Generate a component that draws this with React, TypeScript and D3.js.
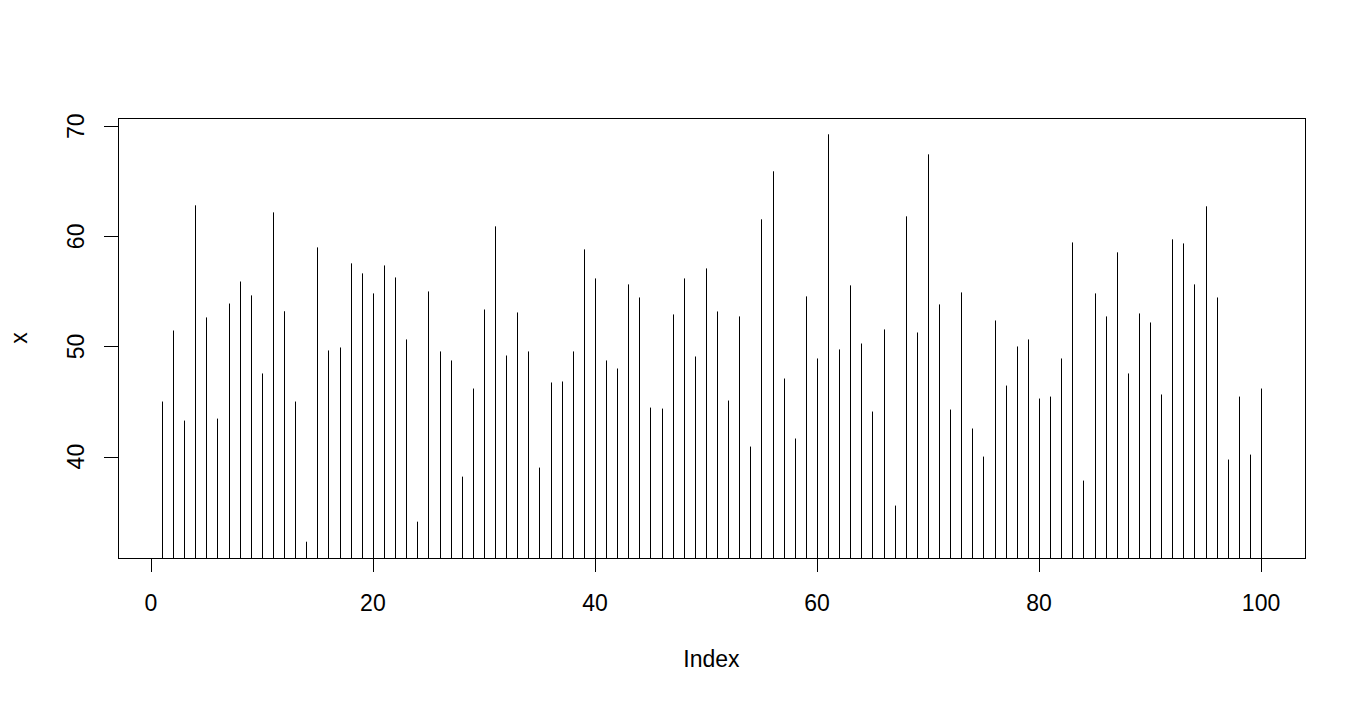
import React from "react";
import * as d3 from "d3";

const values: number[] = [
  45.0, 51.45, 43.27, 62.82, 52.64, 43.45, 53.9, 55.9, 54.64, 47.55,
  62.18, 53.2, 45.0, 32.27, 59.0, 49.64, 49.91, 57.55, 56.64, 54.82,
  57.36, 56.27, 50.64, 34.09, 55.0, 49.55, 48.73, 38.18, 46.18, 53.36,
  60.91, 49.18, 53.09, 49.55, 39.0, 46.73, 46.82, 49.55, 58.82, 56.18,
  48.73, 48.0, 55.64, 54.45, 44.45, 44.36, 52.91, 56.18, 49.09, 57.09,
  53.18, 45.09, 52.73, 40.91, 61.55, 65.91, 47.09, 41.64, 54.55, 48.91,
  69.27, 49.73, 55.55, 50.27, 44.09, 51.55, 35.55, 61.82, 51.27, 67.45,
  53.82, 44.27, 54.91, 42.55, 40.0, 52.36, 46.45, 50.0, 50.64, 45.27,
  45.45, 48.91, 59.45, 37.82, 54.82, 52.73, 58.55, 47.55, 53.0, 52.18,
  45.64, 59.73, 59.36, 55.64, 62.73, 54.45, 39.73, 45.45, 40.18, 46.18,
];
const indices: number[] = values.map((_, i) => i + 1);
const xTicks: number[] = [0, 20, 40, 60, 80, 100];
const yTicks: number[] = [40, 50, 60, 70];
const xLabel = "Index";
const yLabel = "x";

const W = 1366;
const H = 705;
const L = 118, R = 1305, T = 118, B = 558;
const FONT = "Arial, 'Liberation Sans', sans-serif";
const FS = 23;

function padded(lo: number, hi: number): [number, number] {
  const r = hi - lo;
  return [lo - 0.04 * r, hi + 0.04 * r];
}

export default function App() {
  const xDom = padded(d3.min(indices)!, d3.max(indices)!);
  const yDom = padded(d3.min(values)!, d3.max(values)!);
  const x = d3.scaleLinear().domain(xDom).range([L, R]);
  const y = d3.scaleLinear().domain(yDom).range([B, T]);

  return (
    <svg
      width={W}
      height={H}
      style={{ position: "absolute", left: 0, top: 0, background: "#fff" }}
    >
      <defs>
        <clipPath id="plotclip">
          <rect x={L} y={T} width={R - L} height={B - T} />
        </clipPath>
      </defs>
      <g clipPath="url(#plotclip)">
        {values.map((v, i) => {
          const xx = Math.round(x(indices[i])) + 0.5;
          return (
            <line
              key={i}
              x1={xx}
              x2={xx}
              y1={B}
              y2={y(v)}
              stroke="#000"
              strokeWidth={1}
            />
          );
        })}
      </g>
      <rect
        x={L + 0.5}
        y={T + 0.5}
        width={R - L}
        height={B - T}
        fill="none"
        stroke="#000"
        strokeWidth={1}
      />
      {/* x axis */}
      <line
        x1={Math.round(x(xTicks[0])) + 0.5}
        x2={Math.round(x(xTicks[xTicks.length - 1])) + 0.5}
        y1={B + 0.5}
        y2={B + 0.5}
        stroke="#000"
      />
      {xTicks.map((t) => {
        const xx = Math.round(x(t)) + 0.5;
        return (
          <g key={"xt" + t}>
            <line x1={xx} x2={xx} y1={B} y2={B + 14} stroke="#000" />
            <text
              x={x(t)}
              y={611}
              textAnchor="middle"
              fontFamily={FONT}
              fontSize={FS}
              fill="#000"
            >
              {t}
            </text>
          </g>
        );
      })}
      {/* y axis */}
      {yTicks.map((t) => {
        const yy = Math.round(y(t)) + 0.5;
        return (
          <g key={"yt" + t}>
            <line x1={L - 14} x2={L} y1={yy} y2={yy} stroke="#000" />
            <text
              transform={`translate(84,${y(t)}) rotate(-90)`}
              textAnchor="middle"
              fontFamily={FONT}
              fontSize={FS}
              fill="#000"
            >
              {t}
            </text>
          </g>
        );
      })}
      <text
        x={(L + R) / 2}
        y={667}
        textAnchor="middle"
        fontFamily={FONT}
        fontSize={FS}
        fill="#000"
      >
        {xLabel}
      </text>
      <text
        transform={`translate(27,${(T + B) / 2}) rotate(-90)`}
        textAnchor="middle"
        fontFamily={FONT}
        fontSize={FS}
        fill="#000"
      >
        {yLabel}
      </text>
    </svg>
  );
}
